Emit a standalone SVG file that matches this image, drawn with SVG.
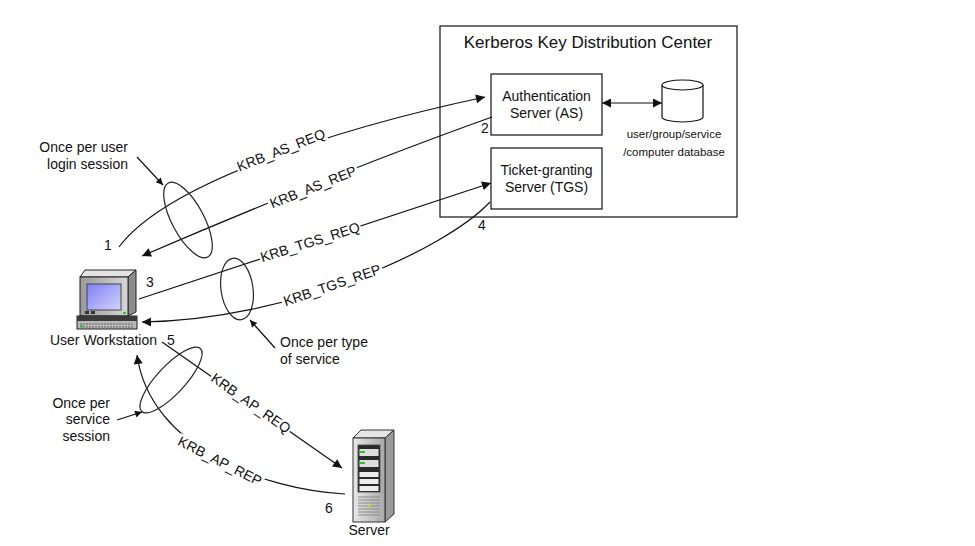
<svg xmlns="http://www.w3.org/2000/svg" width="975" height="546" viewBox="0 0 975 546">
<style>
text{font-family:"Liberation Sans",Arial,sans-serif;fill:#111}
.t14{font-size:14px}
.lbl{font-size:14px;text-anchor:middle}
.box{fill:#fff;stroke:#111;stroke-width:1.2}
.ln{fill:none;stroke:#111;stroke-width:1.2}
.lp{fill:none;stroke:#222;stroke-width:1.2}
.bg{fill:#fff}
</style>
<defs>
<marker id="ah" viewBox="0 0 10 10" refX="10" refY="5" markerWidth="13" markerHeight="9" markerUnits="userSpaceOnUse" orient="auto-start-reverse"><path d="M0,0 L10,5 L0,10 z" fill="#111"/></marker>
<marker id="ahs" viewBox="0 0 10 10" refX="10" refY="5" markerWidth="9" markerHeight="7" markerUnits="userSpaceOnUse" orient="auto"><path d="M0,0 L10,5 L0,10 z" fill="#111"/></marker>
<linearGradient id="scr" x1="0" y1="0" x2="1" y2="1"><stop offset="0" stop-color="#7f7ff5"/><stop offset="1" stop-color="#d4d4ff"/></linearGradient>
<linearGradient id="grey" x1="0" y1="0" x2="1" y2="0"><stop offset="0" stop-color="#9a9a9a"/><stop offset="1" stop-color="#d6d6d6"/></linearGradient>
<linearGradient id="grey2" x1="0" y1="0" x2="1" y2="0"><stop offset="0" stop-color="#e8e8e8"/><stop offset="1" stop-color="#a8a8a8"/></linearGradient>
</defs>

<!-- KDC -->
<g id="kdc">
<rect x="440" y="26" width="297" height="191" class="box" stroke-width="1.3"/>
<text x="588" y="48" font-size="17" text-anchor="middle">Kerberos Key Distribution Center</text>
</g>
<g id="as">
<rect x="491" y="74" width="111" height="61" class="box"/>
<text x="546.5" y="101" font-size="14" text-anchor="middle">Authentication</text>
<text x="546.5" y="118" font-size="14" text-anchor="middle">Server (AS)</text>
</g>
<g id="tgs">
<rect x="491" y="148" width="111" height="61" class="box"/>
<text x="546.5" y="175" font-size="14" text-anchor="middle">Ticket-granting</text>
<text x="546.5" y="192" font-size="14" text-anchor="middle">Server (TGS)</text>
</g>
<g id="db">
<path d="M662,85 L662,117 A20.5,5 0 0,0 703,117 L703,85" fill="#fff" stroke="#111" stroke-width="1.2"/>
<ellipse cx="682.5" cy="85" rx="20.5" ry="5" fill="#fff" stroke="#111" stroke-width="1.2"/>
<text x="674" y="138" font-size="11.5" text-anchor="middle">user/group/service</text>
<text x="674" y="156" font-size="11.5" text-anchor="middle">/computer database</text>
</g>

<!-- Workstation -->
<g id="workstation">
<path d="M80,277 L85,270 L136,270 L128,277 Z" fill="#e4e4e4" stroke="#222" stroke-width="1"/>
<path d="M128,277 L136,270 L136,312 L128,316 Z" fill="#8c8c8c" stroke="#222" stroke-width="1"/>
<rect x="80" y="277" width="48" height="39" fill="url(#grey)" stroke="#222" stroke-width="1"/>
<rect x="87" y="284" width="34" height="26" fill="url(#scr)" stroke="#444" stroke-width="1"/>
<rect x="85" y="311" width="4" height="3" fill="#333"/>
<rect x="91" y="311" width="4" height="3" fill="#333"/>
<rect x="123" y="312" width="3" height="2" fill="#2c2"/>
<rect x="77" y="316" width="60" height="13" fill="#b8b8b8" stroke="#222" stroke-width="1"/>
<rect x="77" y="316" width="60" height="5" fill="#3a3a3a"/>
<path d="M80,324 H134 M80,327 H134" stroke="#666" stroke-width="1" stroke-dasharray="2,1"/>
<rect x="80" y="325" width="3" height="2" fill="#2c2"/>
<text x="103.5" y="345" class="t14" text-anchor="middle">User Workstation</text>
</g>

<!-- Server -->
<g id="server">
<path d="M353,438 L361,430 L394,430 L385,438 Z" fill="#e6e6e6" stroke="#333" stroke-width="1"/>
<path d="M385,438 L394,430 L394,514 L385,522 Z" fill="#9a9a9a" stroke="#333" stroke-width="1"/>
<rect x="353" y="438" width="32" height="84" fill="url(#grey2)" stroke="#333" stroke-width="1"/>
<rect x="358" y="445" width="22" height="47" fill="#2a2a2a" stroke="#444" stroke-width="0.8"/>
<rect x="359.5" y="449" width="19" height="7" fill="#ddd"/>
<rect x="359.5" y="460" width="19" height="7" fill="#ddd"/>
<rect x="360" y="451" width="5" height="2" fill="#2c2"/>
<rect x="360" y="462" width="5" height="2" fill="#2c2"/>
<rect x="359.5" y="472" width="19" height="5" fill="#eee"/>
<rect x="359.5" y="479" width="19" height="5" fill="#eee"/>
<rect x="359.5" y="486" width="19" height="5" fill="#eee"/>
<path d="M358,497 H380 M358,500 H380 M358,503 H380 M358,506 H380 M358,509 H380 M358,512 H380 M358,515 H380" stroke="#8a8a8a" stroke-width="1"/>
<circle cx="369" cy="505" r="1.5" fill="#dd2"/>
<text x="369" y="535" class="t14" text-anchor="middle">Server</text>
</g>

<!-- Connectors -->
<g id="connectors">
<path class="ln" d="M119,247 C165,185 330,130 485,97" marker-end="url(#ah)"/>
<path class="ln" d="M492,117 Q330,175 142,256" marker-end="url(#ah)"/>
<path class="ln" d="M139,299 L491,183" marker-end="url(#ah)"/>
<path class="ln" d="M490,202 C445,250 290,320 142,322" marker-end="url(#ah)"/>
<path class="ln" d="M162,342 L342,468" marker-end="url(#ah)"/>
<path class="ln" d="M345,494 C265,490 150,448 137,355" marker-end="url(#ah)"/>
<path class="ln" d="M602,103 L662,103" marker-start="url(#ah)" marker-end="url(#ah)"/>
<!-- pointers -->
<path class="ln" d="M137,157 L163,185" marker-end="url(#ahs)"/>
<path class="ln" d="M275,348 L250,320" marker-end="url(#ahs)"/>
<path class="ln" d="M117,420 L142,412" marker-end="url(#ahs)"/>

<!-- labels -->
<g transform="translate(281,150) rotate(-21.4)"><rect class="bg" x="-48" y="-7" width="96" height="14"/><text class="lbl" y="5">KRB_AS_REQ</text></g>
<g transform="translate(313,187) rotate(-21.7)"><rect class="bg" x="-48" y="-7" width="96" height="14"/><text class="lbl" y="5">KRB_AS_REP</text></g>
<g transform="translate(310,242) rotate(-17.5)"><rect class="bg" x="-53" y="-7" width="106" height="14"/><text class="lbl" y="5">KRB_TGS_REQ</text></g>
<g transform="translate(332,285) rotate(-19)"><rect class="bg" x="-53" y="-7" width="106" height="14"/><text class="lbl" y="5">KRB_TGS_REP</text></g>
<g transform="translate(251,403) rotate(35)"><rect class="bg" x="-48" y="-7" width="96" height="14"/><text class="lbl" y="5">KRB_AP_REQ</text></g>
<g transform="translate(220,461) rotate(27)"><rect class="bg" x="-48" y="-7" width="96" height="14"/><text class="lbl" y="5">KRB_AP_REP</text></g>

<!-- loops -->
<ellipse class="lp" cx="188" cy="220" rx="16" ry="42" transform="rotate(-28 188 220)"/>
<ellipse class="lp" cx="237" cy="289" rx="16" ry="31" transform="rotate(-8 237 289)"/>
<ellipse class="lp" cx="171" cy="380" rx="14" ry="43" transform="rotate(43 171 380)"/>
</g>

<!-- numbers and notes -->
<g id="notes">
<text x="104" y="250" class="t14">1</text>
<text x="481" y="133" class="t14">2</text>
<text x="146" y="287" class="t14">3</text>
<text x="478" y="230" class="t14">4</text>
<text x="167" y="345" class="t14">5</text>
<text x="325" y="513" class="t14">6</text>
<text x="128" y="152" class="t14" text-anchor="end">Once per user</text>
<text x="128" y="169" class="t14" text-anchor="end">login session</text>
<text x="280" y="347" class="t14">Once per type</text>
<text x="280" y="364" class="t14">of service</text>
<text x="110" y="408" class="t14" text-anchor="end">Once per</text>
<text x="110" y="424" class="t14" text-anchor="end">service</text>
<text x="110" y="441" class="t14" text-anchor="end">session</text>
</g>
</svg>
